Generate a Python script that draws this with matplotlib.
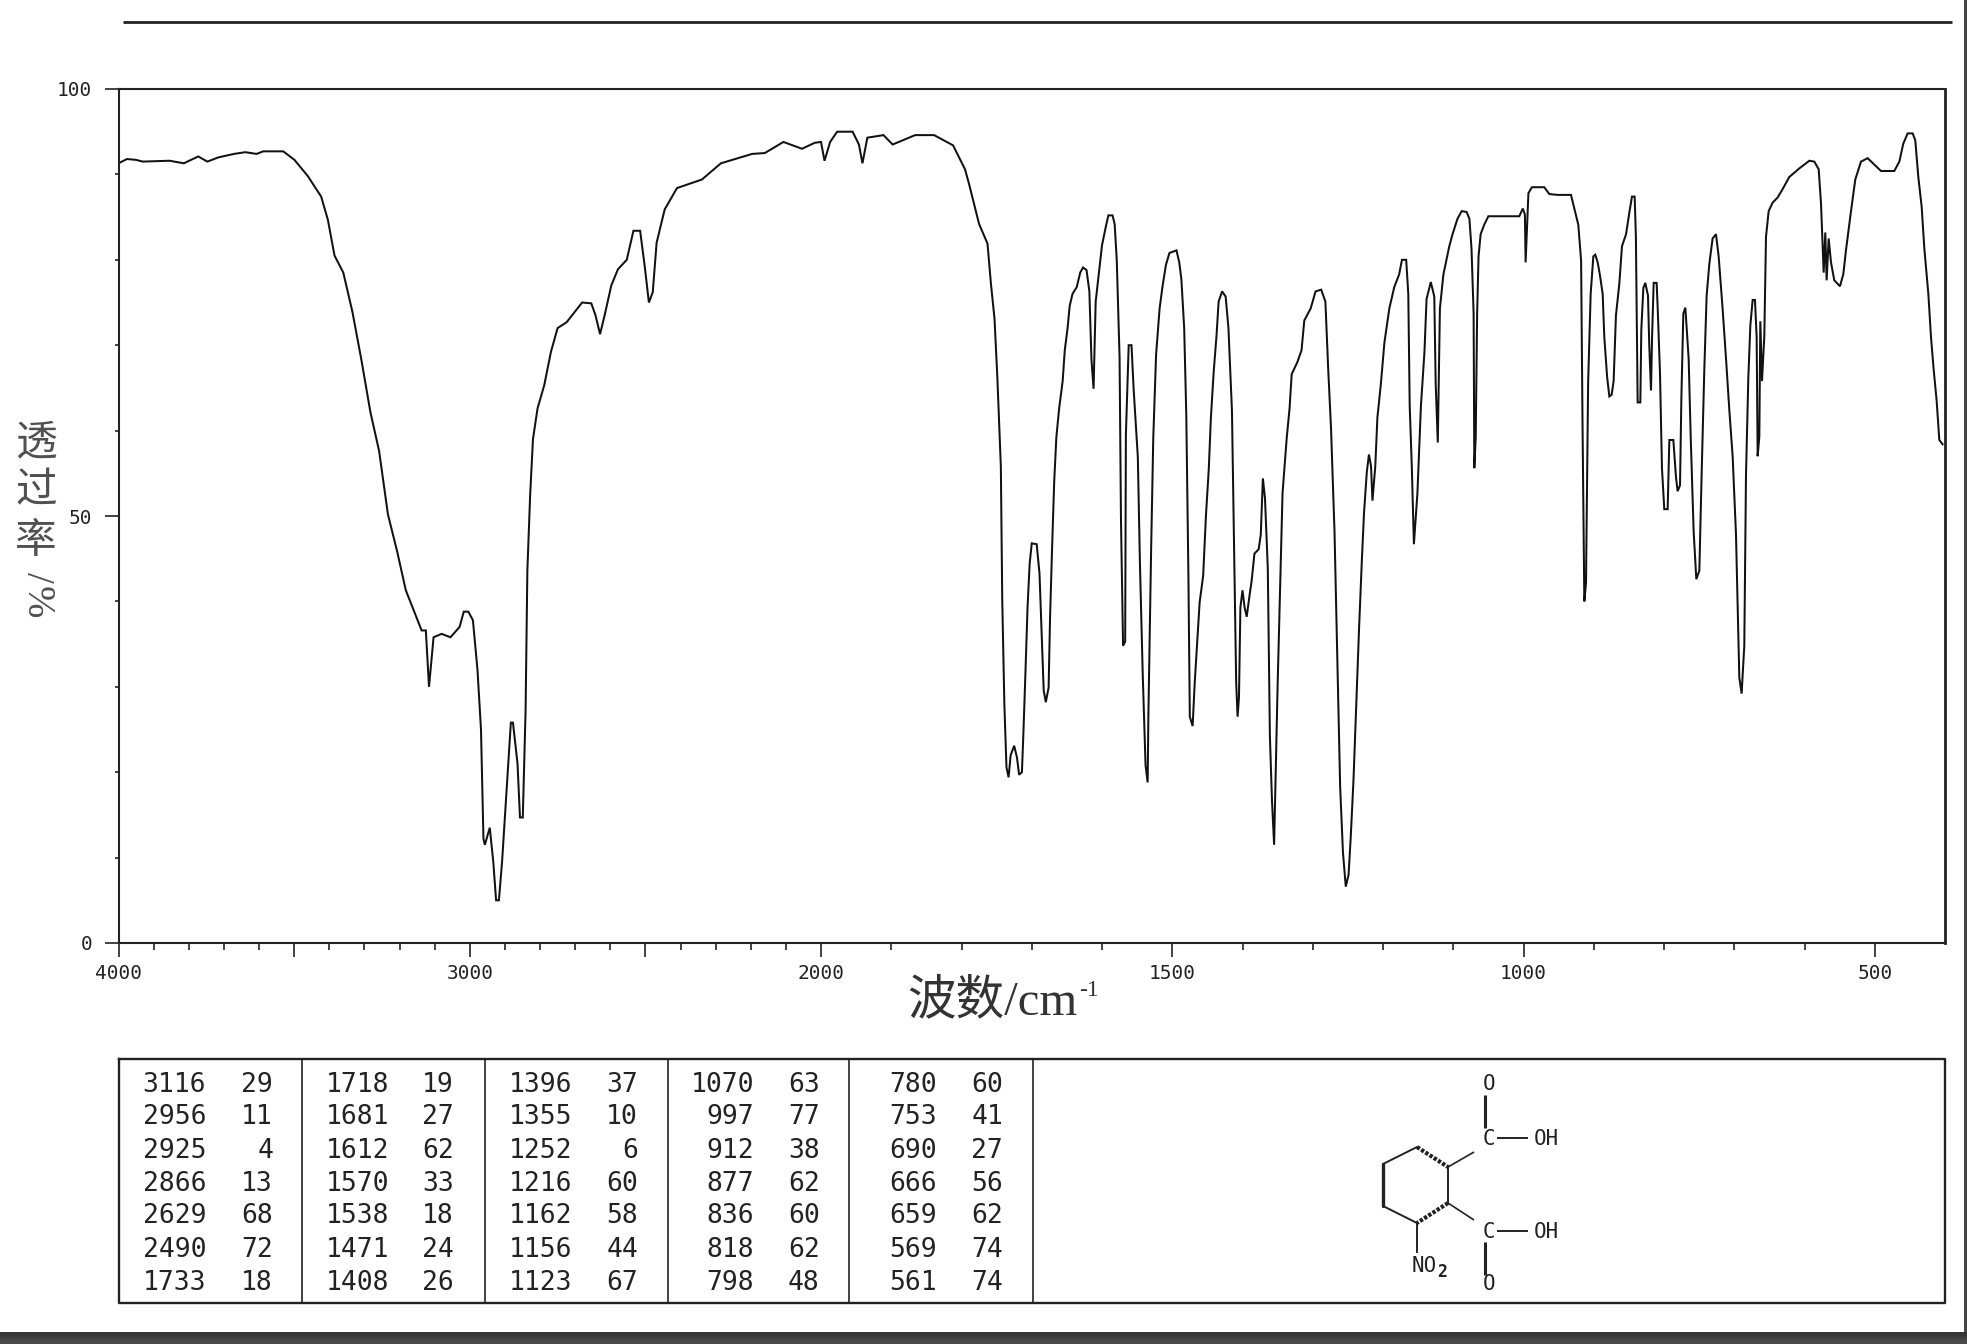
import numpy as np
import matplotlib
matplotlib.use('Agg')
import matplotlib.pyplot as plt

# IR spectrum: wavenumber (cm-1) and transmittance (%)
wavenumber = [
    4000, 3976, 3950, 3931, 3855, 3814, 3773, 3747, 3715, 3671, 3639, 3607, 3588, 3531, 3499, 3461,
    3423, 3404, 3385, 3360, 3334, 3309, 3283, 3258, 3233, 3207, 3182, 3156, 3137, 3125, 3116, 3103,
    3080, 3055, 3029, 3017, 3004, 2991, 2978, 2968, 2961, 2957, 2943, 2933, 2925, 2917, 2908, 2895,
    2883, 2877, 2864, 2857, 2849, 2841, 2836, 2828, 2820, 2807, 2788, 2769, 2750, 2724, 2680, 2654,
    2642, 2629, 2616, 2597, 2578, 2553, 2534, 2515, 2502, 2490, 2479, 2468, 2445, 2410, 2339, 2285,
    2196, 2160, 2107, 2054, 2018, 2000, 1995, 1987, 1977, 1955, 1946, 1941, 1934, 1911, 1898, 1866,
    1839, 1812, 1795, 1789, 1775, 1763, 1758, 1753, 1749, 1744, 1742, 1739, 1736, 1733, 1730, 1725,
    1721, 1718, 1714, 1712, 1709, 1706, 1703, 1700, 1693, 1689, 1686, 1683, 1680, 1676, 1674, 1671,
    1668, 1665, 1661, 1656, 1653, 1649, 1646, 1642, 1636, 1631, 1627, 1622, 1618, 1615, 1612, 1609,
    1604, 1600, 1595, 1591, 1585, 1582, 1579, 1575, 1573, 1570, 1567, 1566, 1562, 1558, 1555, 1549,
    1546, 1542, 1538, 1535, 1534, 1530, 1527, 1523, 1518, 1514, 1509, 1504, 1494, 1490, 1487, 1483,
    1480, 1477, 1475, 1471, 1468, 1464, 1461, 1456, 1452, 1448, 1445, 1441, 1437, 1434, 1429, 1424,
    1420, 1415, 1412, 1409, 1407, 1405, 1403, 1400, 1397, 1394, 1390, 1387, 1383, 1377, 1374, 1371,
    1368, 1364, 1361, 1358, 1355, 1350, 1346, 1343, 1337, 1333, 1330, 1322, 1316, 1312, 1303, 1296,
    1288, 1282, 1278, 1274, 1269, 1265, 1261, 1257, 1253, 1249, 1246, 1242, 1238, 1234, 1230, 1227,
    1223, 1220, 1217, 1215, 1211, 1208, 1203, 1198, 1191, 1184, 1177, 1173, 1167, 1164, 1162, 1159,
    1156, 1151, 1146, 1141, 1138, 1132, 1127, 1125, 1122, 1119, 1114, 1105.6, 1101, 1094, 1088, 1081,
    1077, 1074, 1071, 1070, 1068, 1066, 1064, 1061, 1056, 1050, 1006, 1001, 998, 997, 995, 993,
    988, 970.4, 963.3, 951.4, 932.4, 927.7, 922, 918, 916, 913.4, 911, 908, 904.4, 900.6, 897.8, 894.4,
    891, 887.3, 885, 881, 877.8, 874.5, 871.7, 868.4, 863.6, 859.8, 854, 849.4, 845.6, 841.8, 840, 837.5,
    833.7, 832.3, 829.4, 826.6, 822.8, 821, 818.5, 817, 814.7, 810.5, 809, 805.7, 802.9, 799.6, 794.8, 792.4,
    786.7, 782.9, 780.6, 777.2, 775.3, 772.5, 769.6, 764.9, 762, 757.8, 754, 749.7, 746.4, 742.6, 739.3, 735.5,
    730.8, 726, 722.2, 716.5, 711.7, 707, 702.3, 697.5, 692.8, 689.5, 685.7, 683.3, 680, 677.1, 673.8, 670.5,
    668.1, 666.7, 664.3, 662.9, 660.5, 657.2, 654.8, 651, 645.3, 638.2, 631, 621.6, 607.4, 593.1, 586, 579.8,
    576.5, 572.7, 570.4, 568.5, 565.6, 562.3, 557.6, 549.5, 544.8, 541, 533.8, 527.7, 519.6, 510.1, 491.1, 472.2,
    465, 459.4, 453.2, 446, 442.3, 438, 433.2, 429.4, 423.7, 419.9, 416.2, 411.9, 408.1, 403.4,
]
transmittance = [
    91.3, 91.8, 91.7, 91.5, 91.6, 91.3, 92.1, 91.5, 92.0, 92.4, 92.6, 92.4, 92.7, 92.7, 91.7, 89.8,
    87.4, 84.7, 80.5, 78.5, 73.9, 68.4, 62.2, 57.6, 50.2, 45.9, 41.3, 38.6, 36.6, 36.6, 30.0, 35.8,
    36.2, 35.8, 37.0, 38.8, 38.8, 37.8, 32, 25, 12.2, 11.5, 13.5, 9.5, 5, 5, 9.5, 18,
    25.8, 25.8, 21, 14.7, 14.7, 27.3, 43.6, 52.5, 59, 62.6, 65.3, 69.2, 72, 72.7, 75, 74.9,
    73.5, 71.3, 73.5, 77, 78.9, 80, 83.4, 83.4, 79.3, 75, 76.2, 82, 85.9, 88.4, 89.4, 91.3,
    92.4, 92.5, 93.8, 93, 93.7, 93.8, 91.6, 93.8, 95, 95, 93.5, 91.3, 94.3, 94.6, 93.5, 94.6,
    94.6, 93.4, 90.6, 88.8, 84.2, 81.9, 77.1, 73.1, 66.3, 55.8, 40.2, 28, 20.6, 19.4, 22, 23.1,
    21.7, 19.7, 20, 24.3, 31.6, 39.3, 44.4, 46.8, 46.7, 43.3, 36.5, 29.6, 28.2, 29.9, 37.9, 46.4,
    54.1, 59.2, 62.6, 65.8, 69.4, 72, 74.6, 76, 76.8, 78.5, 79.1, 78.8, 76.3, 68.3, 64.9, 75.1,
    78.8, 81.7, 83.7, 85.2, 85.2, 84.2, 80, 68.6, 49.6, 34.8, 35.3, 59.5, 70, 70, 64.9, 56.9,
    44.4, 31.4, 20.8, 18.8, 26.5, 46.4, 59.2, 68.9, 74.3, 76.8, 79.4, 80.8, 81.1, 79.7, 77.7, 72,
    61.8, 43, 26.5, 25.4, 30.5, 35.9, 39.9, 43, 50.1, 55.5, 61.5, 66.9, 71.1, 75.1, 76.3, 75.7,
    72, 62.3, 46.7, 30.5, 26.5, 28.8, 39.3, 41.3, 39.3, 38.2, 40.7, 42.4, 45.6, 46.1, 47.8, 54.4,
    52.1, 43.9, 24.2, 16.6, 11.5, 30.2, 43.3, 52.7, 59.2, 62.6, 66.6, 68, 69.4, 72.9, 74.3, 76.3,
    76.5, 75.1, 67.2, 60.3, 48.1, 33.1, 18.3, 10.6, 6.6, 8, 12.3, 19.1, 28, 37, 45, 50.4,
    55.2, 57.2, 55.8, 51.8, 55.8, 61.5, 65.5, 70.3, 74.3, 76.8, 78.3, 80, 80, 76, 62.9, 55.8,
    46.7, 52.7, 62.9, 69.2, 75.4, 77.4, 75.7, 65.5, 58.6, 74.3, 78.3, 81.6, 83, 84.8, 85.7, 85.6,
    84.8, 81.3, 73.7, 55.6, 59.3, 73.7, 80.4, 83, 84.1, 85.1, 85.1, 86, 85.3, 79.7, 83.9, 87.8,
    88.5, 88.5, 87.7, 87.6, 87.6, 86, 84.1, 79.9, 61, 40, 42.2, 65.6, 76, 80.4, 80.6, 79.7,
    78.1, 76, 71, 66.3, 64, 64.2, 65.8, 73.5, 77.2, 81.6, 83, 85.5, 87.4, 87.4, 82.7, 63.3,
    63.3, 71.8, 76.7, 77.3, 75.8, 70, 64.7, 70.9, 77.3, 77.3, 74.4, 66.7, 55.6, 50.8, 50.8, 58.9,
    58.9, 54.5, 52.9, 53.6, 63.7, 73.7, 74.4, 68.4, 59.3, 48.2, 42.6, 43.6, 55, 67.2, 75.8, 79.5,
    82.5, 83, 80.4, 74.2, 68.4, 62.4, 57, 47.8, 31.1, 29.2, 34.8, 54.7, 66.1, 72.3, 75.3, 75.3,
    70.9, 57, 59.3, 72.8, 65.8, 71.1, 82.7, 85.7, 86.7, 87.3, 88.3, 89.7, 90.7, 91.6, 91.5, 90.6,
    86.6, 78.5, 83.2, 77.6, 82.5, 79.7, 77.6, 76.9, 78.3, 81.1, 85.7, 89.4, 91.5, 91.9, 90.4, 90.4,
    91.5, 93.6, 94.8, 94.8, 94, 89.7, 86.2, 81.3, 76, 70.9, 67.2, 63.5, 58.9, 58.4,
]

x_major = [4000, 3500, 3000, 2500, 2000, 1500, 1000, 500]
x_labels = ['4000', '', '3000', '', '2000', '1500', '1000', '500']
y_major = [0, 50, 100]
y_labels = ['0', '50', '100']

# peak table, one list per column
peak_wn = [
    [3116, 2956, 2925, 2866, 2629, 2490, 1733],
    [1718, 1681, 1612, 1570, 1538, 1471, 1408],
    [1396, 1355, 1252, 1216, 1162, 1156, 1123],
    [1070, 997, 912, 877, 836, 818, 798],
    [780, 753, 690, 666, 659, 569, 561],
]
peak_t = [
    [29, 11, 4, 13, 68, 72, 18],
    [19, 27, 62, 33, 18, 24, 26],
    [37, 10, 6, 60, 58, 44, 67],
    [63, 77, 38, 62, 60, 62, 48],
    [60, 41, 27, 56, 62, 74, 74],
]


def forward(w):
    # 4000-2000 is drawn at half the scale of 2000-400
    w = np.asarray(w, dtype=float)
    return np.where(w >= 2000, w, 2 * w - 2000)


def inverse(p):
    p = np.asarray(p, dtype=float)
    return np.where(p >= 2000, p, (p + 2000) / 2)


W, H = 1967, 1344
DPI = 100
fig = plt.figure(figsize=(W / DPI, H / DPI), dpi=DPI, facecolor='white')

# page overlay in pixel coordinates
bg = fig.add_axes([0, 0, 1, 1], zorder=0)
bg.imshow([[0.21], [0.29]], cmap='gray', vmin=0, vmax=1, aspect='auto',
          extent=(0, W, H, 1332), interpolation='bilinear')
bg.set_xlim(0, W)
bg.set_ylim(H, 0)
bg.axis('off')
bg.fill_between([1964, W], 0, 1332, color='#454548', lw=0)
bg.plot([123, 1952], [22, 22], color='#222222', lw=2.0, solid_capstyle='butt')

# spectrum axes
left, right, top, bottom = 118.5, 1945, 89, 943
ax = fig.add_axes([left / W, (H - bottom) / H, (right - left) / W, (bottom - top) / H], zorder=1)
ax.set_xscale('function', functions=(forward, inverse))
ax.plot(wavenumber, transmittance, color='#111111', lw=1.45, solid_joinstyle='miter')
ax.set_xlim(4000, 400)
ax.set_ylim(0, 100)

ax.set_xticks(x_major)
ax.set_xticklabels(x_labels)
ax.set_xticks([w for w in range(3900, 400, -100) if w % 500 != 0], minor=True)
ax.set_yticks(y_major)
ax.set_yticklabels(y_labels)
ax.set_yticks([v for v in range(10, 100, 10) if v != 50], minor=True)
ax.tick_params(axis='x', which='major', length=10, width=1.2, pad=5, color='#222222')
ax.tick_params(axis='x', which='minor', length=5, width=1.2, color='#222222')
ax.tick_params(axis='y', which='major', length=10, width=1.2, pad=9, color='#222222')
ax.tick_params(axis='y', which='minor', length=3, width=1.2, color='#222222')
for lab in ax.get_xticklabels() + ax.get_yticklabels():
    lab.set_fontfamily('DejaVu Sans Mono')
    lab.set_fontsize(14)
    lab.set_color('#222222')
for s in ax.spines.values():
    s.set_linewidth(1.5)
    s.set_color('#222222')
ax.spines['right'].set_linewidth(2.0)

# axis titles
title_fonts = ['Liberation Serif', 'Noto Sans CJK SC']
bg.text(1077, 1002, '波数/cm', family=title_fonts, fontsize=35, color='#333333', ha='right', va='center')
bg.text(1079, 990, '-1', family='Liberation Serif', fontsize=17, color='#333333', ha='left', va='center')

ylab_chars = ['透', '过', '率']
ylab_pos = [443, 491, 541]
for ch, yp in zip(ylab_chars, ylab_pos):
    bg.text(36, yp, ch, family='Noto Sans CJK SC', fontsize=30, color='#505050', ha='center', va='center')
bg.text(36, 577, '/', family='Liberation Serif', fontsize=28, rotation=270, color='#505050',
        ha='center', va='center')
bg.text(36, 602, '%', family='Liberation Serif', fontsize=28, rotation=270, color='#505050',
        ha='center', va='center')

# peak table
tbl_left, tbl_right, tbl_top, tbl_bottom = 118.5, 1945, 1059, 1303
bg.plot([tbl_left, tbl_right, tbl_right, tbl_left, tbl_left],
        [tbl_top, tbl_top, tbl_bottom, tbl_bottom, tbl_top], color='#222222', lw=1.7)
for xd in [302, 484.5, 667.5, 849, 1033]:
    bg.plot([xd, xd], [tbl_top, tbl_bottom], color='#222222', lw=1.2)
row_y = [1085, 1117, 1151, 1184, 1216, 1250, 1283]
wn_right = [206, 389, 572.5, 754, 937]
t_right = [273, 454, 638, 819.5, 1003]
for c in range(5):
    for r in range(7):
        bg.text(wn_right[c], row_y[r], str(peak_wn[c][r]), family='DejaVu Sans Mono', fontsize=19,
                color='#222222', ha='right', va='center')
        bg.text(t_right[c], row_y[r], str(peak_t[c][r]), family='DejaVu Sans Mono', fontsize=19,
                color='#222222', ha='right', va='center')

# structure drawing
ring_x = [1417, 1448, 1448, 1417, 1383, 1383, 1417]
ring_y = [1147, 1167, 1203, 1223, 1206, 1164, 1147]
ring_lw = [3.0, 1.4, 3.0, 1.4, 2.4, 1.4]
for i in range(6):
    ls = (0, (0.8, 0.4)) if ring_lw[i] == 3.0 else '-'
    bg.plot(ring_x[i:i + 2], ring_y[i:i + 2], color='#222222', lw=ring_lw[i], ls=ls, solid_capstyle='round')
bonds = [
    ((1448, 1474), (1167, 1152), 1.2),
    ((1448, 1474), (1203, 1220), 1.2),
    ((1497, 1528), (1138, 1138), 1.4),
    ((1497, 1528), (1231, 1231), 1.4),
    ((1485, 1485), (1095, 1128), 2.2),
    ((1485, 1485), (1242, 1275), 2.2),
    ((1417, 1417), (1223, 1253), 1.4),
]
for bx, by, blw in bonds:
    bg.plot(bx, by, color='#222222', lw=blw, solid_capstyle='butt')
for tx, ty, s in [(1489, 1084, 'O'), (1489, 1139, 'C'), (1546, 1139, 'OH'), (1489, 1232, 'C'),
                  (1546, 1232, 'OH'), (1489, 1284, 'O')]:
    bg.text(tx, ty, s, family='DejaVu Sans Mono', fontsize=15, color='#222222', ha='center', va='center')
bg.text(1412, 1266, 'NO', family='DejaVu Sans Mono', fontsize=15, color='#222222', ha='left', va='center')
bg.text(1437, 1272, '2', family='DejaVu Sans Mono', fontsize=12, weight='bold', color='#222222',
        ha='left', va='center')

fig.savefig('out.png', dpi=DPI)
